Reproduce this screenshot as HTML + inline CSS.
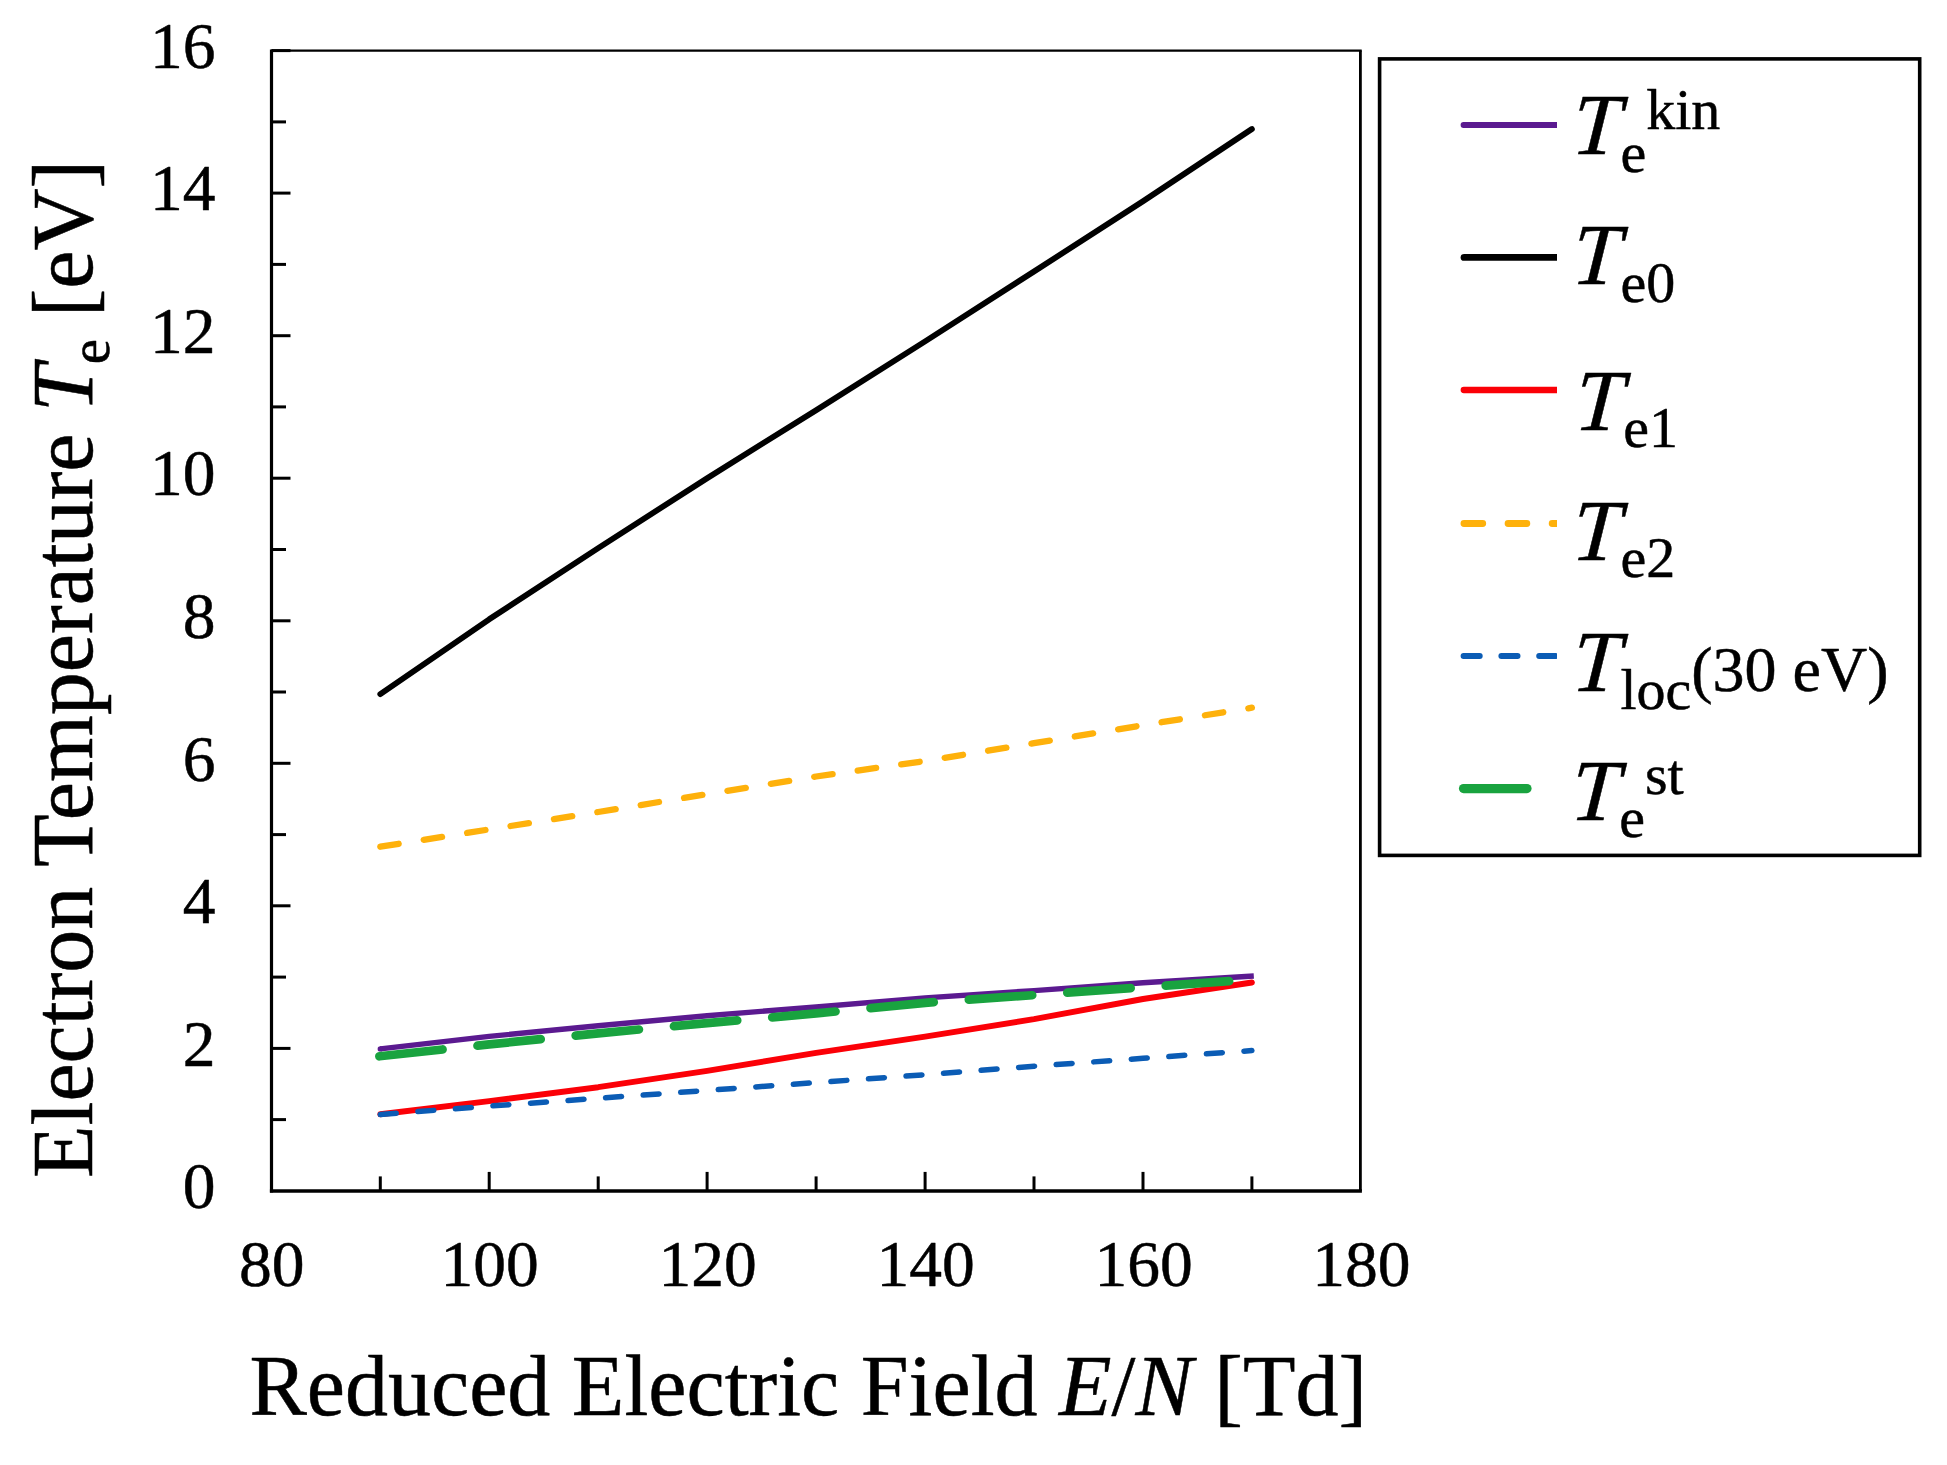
<!DOCTYPE html>
<html lang="en"><head><meta charset="utf-8"><title>Electron Temperature vs Reduced Electric Field</title>
<style>
html,body{margin:0;padding:0;background:#fff;}
body{width:1947px;height:1465px;overflow:hidden;}
svg{display:block;}
text{font-family:"Liberation Serif",serif;fill:#000;stroke:#000;stroke-width:0.5px;stroke-linejoin:round;}
.tk{font-size:65.5px;}
.ax{font-size:86px;}
.lg{font-size:87px;}
.ss{font-size:58px;}
.it{font-style:italic;}
</style></head><body>
<svg width="1947" height="1465" viewBox="0 0 1947 1465">
<rect width="1947" height="1465" fill="#fff"/>
<g stroke="#000" fill="none" stroke-linecap="butt">
<line x1="271.5" y1="49.4" x2="271.5" y2="1192.6" stroke-width="3.2"/>
<line x1="269.9" y1="1190.9" x2="1361.9" y2="1190.9" stroke-width="3.5"/>
<line x1="271.5" y1="50.6" x2="1361.7" y2="50.6" stroke-width="2.4"/>
<line x1="1360.4" y1="50.6" x2="1360.4" y2="1190.9" stroke-width="2.8"/>
<line x1="271.5" y1="1119.6" x2="286.0" y2="1119.6" stroke-width="3.0"/>
<line x1="271.5" y1="1048.4" x2="290.5" y2="1048.4" stroke-width="3.0"/>
<line x1="271.5" y1="977.1" x2="286.0" y2="977.1" stroke-width="3.0"/>
<line x1="271.5" y1="905.8" x2="290.5" y2="905.8" stroke-width="3.0"/>
<line x1="271.5" y1="834.6" x2="286.0" y2="834.6" stroke-width="3.0"/>
<line x1="271.5" y1="763.3" x2="290.5" y2="763.3" stroke-width="3.0"/>
<line x1="271.5" y1="692.0" x2="286.0" y2="692.0" stroke-width="3.0"/>
<line x1="271.5" y1="620.8" x2="290.5" y2="620.8" stroke-width="3.0"/>
<line x1="271.5" y1="549.5" x2="286.0" y2="549.5" stroke-width="3.0"/>
<line x1="271.5" y1="478.2" x2="290.5" y2="478.2" stroke-width="3.0"/>
<line x1="271.5" y1="406.9" x2="286.0" y2="406.9" stroke-width="3.0"/>
<line x1="271.5" y1="335.7" x2="290.5" y2="335.7" stroke-width="3.0"/>
<line x1="271.5" y1="264.4" x2="286.0" y2="264.4" stroke-width="3.0"/>
<line x1="271.5" y1="193.1" x2="290.5" y2="193.1" stroke-width="3.0"/>
<line x1="271.5" y1="121.9" x2="286.0" y2="121.9" stroke-width="3.0"/>
<line x1="271.5" y1="50.6" x2="290.5" y2="50.6" stroke-width="3.0"/>
<line x1="380.3" y1="1190.9" x2="380.3" y2="1176.4" stroke-width="3.0"/>
<line x1="489.2" y1="1190.9" x2="489.2" y2="1171.9" stroke-width="3.0"/>
<line x1="598.2" y1="1190.9" x2="598.2" y2="1176.4" stroke-width="3.0"/>
<line x1="707.1" y1="1190.9" x2="707.1" y2="1171.9" stroke-width="3.0"/>
<line x1="816.1" y1="1190.9" x2="816.1" y2="1176.4" stroke-width="3.0"/>
<line x1="925.1" y1="1190.9" x2="925.1" y2="1171.9" stroke-width="3.0"/>
<line x1="1034.0" y1="1190.9" x2="1034.0" y2="1176.4" stroke-width="3.0"/>
<line x1="1143.0" y1="1190.9" x2="1143.0" y2="1171.9" stroke-width="3.0"/>
<line x1="1251.9" y1="1190.9" x2="1251.9" y2="1176.4" stroke-width="3.0"/>
</g>
<text class="tk" x="215.6" y="1208.1" text-anchor="end">0</text>
<text class="tk" x="215.6" y="1065.6" text-anchor="end">2</text>
<text class="tk" x="215.6" y="923.0" text-anchor="end">4</text>
<text class="tk" x="215.6" y="780.5" text-anchor="end">6</text>
<text class="tk" x="215.6" y="638.0" text-anchor="end">8</text>
<text class="tk" x="215.6" y="495.4" text-anchor="end">10</text>
<text class="tk" x="215.6" y="352.9" text-anchor="end">12</text>
<text class="tk" x="215.6" y="210.3" text-anchor="end">14</text>
<text class="tk" x="215.6" y="67.8" text-anchor="end">16</text>
<text class="tk" x="271.8" y="1286.3" text-anchor="middle">80</text>
<text class="tk" x="489.7" y="1286.3" text-anchor="middle">100</text>
<text class="tk" x="707.6" y="1286.3" text-anchor="middle">120</text>
<text class="tk" x="925.6" y="1286.3" text-anchor="middle">140</text>
<text class="tk" x="1143.5" y="1286.3" text-anchor="middle">160</text>
<text class="tk" x="1361.4" y="1286.3" text-anchor="middle">180</text>
<text class="ax" x="249.5" y="1414.7">Reduced Electric Field <tspan class="it">E</tspan>/<tspan class="it">N</tspan> [Td]</text>
<text class="ax" transform="translate(91.6,1178) rotate(-90)">Electron Temperature <tspan class="it">T</tspan><tspan font-size="57" dy="17.5">e</tspan><tspan dy="-17.5"> [eV]</tspan></text>
<path d="M380.3 1048.9 L489.2 1036.4 L598.2 1025.7 L707.1 1015.7 L816.1 1007.0 L925.1 997.9 L1034.0 990.6 L1143.0 982.8 L1253.8 976.0" fill="none" stroke="#5B1A90" stroke-width="5.4" stroke-linecap="butt" stroke-linejoin="round"/>
<circle cx="380.3" cy="1048.9" r="2.70" fill="#5B1A90"/>
<path d="M380.3 694.2 L489.2 619.3 L598.2 548.1 L707.1 478.2 L816.1 410.2 L925.1 341.4 L1034.0 271.5 L1143.0 201.3 L1251.9 129.0" fill="none" stroke="#000000" stroke-width="5.8" stroke-linecap="round" stroke-linejoin="round"/>
<path d="M380.3 1114.3 L489.2 1101.1 L598.2 1087.2 L707.1 1070.8 L816.1 1052.8 L925.1 1036.6 L1034.0 1019.1 L1143.0 999.0 L1251.9 982.5" fill="none" stroke="#FB0007" stroke-width="5.9" stroke-linecap="round" stroke-linejoin="round"/>
<path d="M380.3 846.7 L489.2 829.4 L598.2 812.0 L707.1 794.1 L816.1 776.5 L925.1 761.0 L1034.0 743.2 L1143.0 725.2 L1251.9 707.7" fill="none" stroke="#FEB10B" stroke-width="6.3" stroke-linecap="round" stroke-linejoin="round" stroke-dasharray="18.6 25.35"/>
<path d="M380.3 1114.5 L489.2 1106.1 L598.2 1098.3 L707.1 1090.4 L816.1 1082.6 L925.1 1074.7 L1034.0 1066.2 L1143.0 1058.3 L1251.9 1050.6" fill="none" stroke="#0B5CB5" stroke-width="5.5" stroke-linecap="round" stroke-linejoin="round" stroke-dasharray="16.0 21.65"/>
<path d="M379.4 1056.3 L489.2 1044.4 L598.2 1033.3 L707.1 1023.1 L816.1 1013.4 L925.1 1002.8 L1034.0 995.1 L1143.0 987.2 L1251.9 979.6" fill="none" stroke="#19A33F" stroke-width="8.7" stroke-linecap="round" stroke-linejoin="round" stroke-dasharray="63.5 35.2"/>
<rect x="1379.6" y="58.9" width="540.1" height="796.5" fill="#fff" stroke="#000" stroke-width="3.6"/>
<clipPath id="lc"><rect x="1440" y="80" width="117.1" height="760"/></clipPath>
<g clip-path="url(#lc)">
<line x1="1463.5" y1="125.0" x2="1570.0" y2="125.0" stroke="#5B1A90" stroke-width="5.8" stroke-linecap="round"/>
<line x1="1464.0" y1="257.4" x2="1570.0" y2="257.4" stroke="#000000" stroke-width="6.8" stroke-linecap="round"/>
<line x1="1463.8" y1="390.0" x2="1570.0" y2="390.0" stroke="#FB0007" stroke-width="6.3" stroke-linecap="round"/>
<line x1="1464.0" y1="523.5" x2="1570.0" y2="523.5" stroke="#FEB10B" stroke-width="6.9" stroke-linecap="round" stroke-dasharray="18.7 25.4"/>
<line x1="1463.6" y1="656.0" x2="1570.0" y2="656.0" stroke="#0B5CB5" stroke-width="6.0" stroke-linecap="round" stroke-dasharray="16.1 21.7"/>
<line x1="1463.5" y1="788.6" x2="1527.0" y2="788.6" stroke="#19A33F" stroke-width="9.2" stroke-linecap="round"/>
</g>
<text class="lg it" transform="translate(1570.7,154.4) skewX(-4)">T</text><text class="lg" x="1620.4" y="154.4"><tspan class="ss" dy="17.5">e</tspan><tspan class="ss" dy="-43.0">kin</tspan></text>
<text class="lg it" transform="translate(1570.7,284.2) skewX(-4)">T</text><text class="lg" x="1620.4" y="284.2"><tspan class="ss" dy="17.5">e0</tspan></text>
<text class="lg it" transform="translate(1573.5,429.7) skewX(-4)">T</text><text class="lg" x="1623.2" y="429.7"><tspan class="ss" dy="17.5">e1</tspan></text>
<text class="lg it" transform="translate(1570.7,559.8) skewX(-4)">T</text><text class="lg" x="1620.4" y="559.8"><tspan class="ss" dy="17.5">e2</tspan></text>
<text class="lg it" transform="translate(1570.7,691.1) skewX(-4)">T</text><text class="lg" x="1620.4" y="691.1"><tspan class="ss" dy="17.5">loc</tspan><tspan font-size="64" dy="-17.5">(30 eV)</tspan></text>
<text class="lg it" transform="translate(1569.5,819.5) skewX(-4)">T</text><text class="lg" x="1619.2" y="819.5"><tspan class="ss" dy="17.5">e</tspan><tspan class="ss" dy="-43.0">st</tspan></text>
</svg></body></html>
